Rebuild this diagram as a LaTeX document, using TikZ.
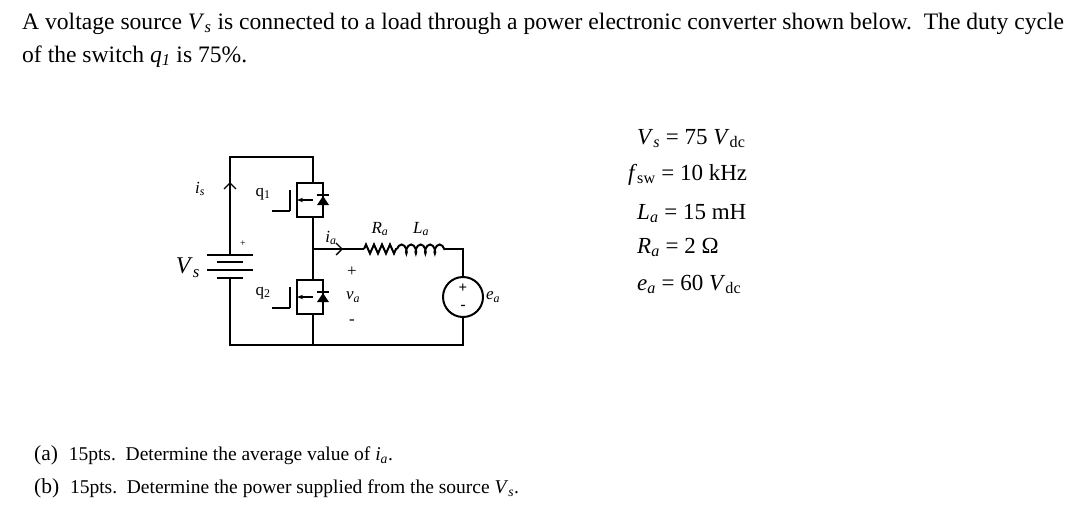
\documentclass[tikz,border=0pt]{standalone}
\usepackage{fontspec}
\setmainfont{Liberation Serif}
\usetikzlibrary{positioning,calc,arrows.meta,decorations.pathmorphing}
\tikzset{
  wire/.style={line width=2pt},
  txt/.style={inner sep=0pt, anchor=base west},
  lbl/.style={inner sep=0pt, font=\fontsize{17}{17}\selectfont},
}
\newcommand{\iv}[2]{\textit{#1}\textsubscript{\textit{#2}}}
\newcommand{\mosfet}[2]{% name, y of drain
  \coordinate (#1d) at (313,#2);
  \coordinate (#1s) at (313,#2+34);
  \draw[wire] (#1d) -- (297,#2) -- (297,#2+34) -- (#1s);
  \draw[wire] (290,#2+7) -- (290,#2+28) (272,#2+28) -- (290,#2+28);
  \draw[line width=1.3pt,-{Stealth[length=6pt]}] (313,#2+17) -- (297,#2+17);
  \draw[wire] (#1d) -- (323,#2) -- (323,#2+34) -- (#1s);
  \fill (317,#2+22) -- (329,#2+22) -- (323,#2+13) -- cycle;
  \draw[line width=1.3pt] (317,#2+12) -- (329,#2+12);
}
\begin{document}
\begin{tikzpicture}[x=1pt,y=-1pt]
  \useasboundingbox (0,0) rectangle (1076,504);
  % question text
  \node[txt, font=\fontsize{23.6}{23.6}\selectfont] (l1) at (22,29) {A voltage source \iv{V}{s} is connected to a load through a power electronic converter shown below.\ \ The duty cycle};
  \node[txt, font=\fontsize{23.6}{23.6}\selectfont] (l2) at (22,62) {of the switch \iv{q}{1} is 75\%.};
  % circuit corners
  \coordinate (tl) at (230,157);
  \coordinate (tr) at (313,157);
  \coordinate (bl) at (230,345);
  \coordinate (bm) at (313,345);
  \coordinate (br) at (463,345);
  \coordinate (mid) at (313,249);
  \coordinate (bt) at (230,255);
  \coordinate (bb) at (230,278);
  \mosfet{qa}{183}
  \mosfet{qb}{280}
  \draw[wire] (bt) -- (tl) -- (tr) -- (qad);
  \draw[wire] (qas) -- (qbd);
  \draw[wire] (bb) -- (bl) -- (bm) -- (br) -- (463,317);
  \draw[wire] (qbs) -- (bm);
  % battery
  \draw[wire] (207,255) -- (253,255) (217,262) -- (243,262)
              (207,270) -- (253,270) (217,278) -- (243,278);
  \draw[line width=1.3pt,-{Straight Barb[length=6pt]}] (230,200) -- (230,182);
  % load
  \coordinate (rA) at (364,249);
  \coordinate (rB) at (397,249);
  \coordinate (lB) at (445,249);
  \draw[wire] (mid) -- (rA);
  \draw[line width=1.3pt,-{Straight Barb[length=6pt]}] (330,249) -- (343,249);
  \draw[wire, decorate, decoration={zigzag, segment length=8pt, amplitude=4.5pt}] (rA) -- (rB);
  \draw[wire, decorate, decoration={coil, aspect=0.5, segment length=9.5pt, amplitude=4.5pt}] (rB) -- (lB);
  \draw[wire] (lB) -- (463,249) -- (463,277);
  \node[draw, circle, line width=2pt, minimum size=40pt, inner sep=0pt] (ea) at (463,297) {};
  \node[font=\bfseries\fontsize{15}{15}\selectfont] at (463,288) {+};
  \node[font=\bfseries\fontsize{15}{15}\selectfont] at (463,307) {-};
  % labels
  \node[lbl] at (200,189) {\iv{i}{s}};
  \node[lbl] at (263,194) {q\textsubscript{1}};
  \node[lbl] at (263,293) {q\textsubscript{2}};
  \node[lbl] at (331,238) {\iv{i}{a}};
  \node[lbl] at (380,229) {\iv{R}{a}};
  \node[lbl] at (421,229) {\iv{L}{a}};
  \node[lbl] at (352,272) {+};
  \node[lbl] at (353,297) {\iv{v}{a}};
  \node[lbl] at (352,322) {-};
  \node[lbl] at (493,297) {\iv{e}{a}};
  \node[lbl, font=\fontsize{24}{24}\selectfont] at (188,268) {\iv{V}{s}};
  \node[lbl, font=\fontsize{10}{10}\selectfont] at (243,244) {+};
  % parameters
  \begin{scope}[every node/.style={txt, font=\fontsize{23}{23}\selectfont}]
    \node (p1) at (637,144) {\iv{V}{s} = 75 \textit{V}\textsubscript{dc}};
    \node (p2) at (628,180) {\textit{f}\textsubscript{sw} = 10 kHz};
    \node (p3) at (637,219) {\iv{L}{a} = 15 mH};
    \node (p4) at (637,253) {\iv{R}{a} = 2 Ω};
    \node (p5) at (637,290) {\iv{e}{a} = 60 \textit{V}\textsubscript{dc}};
  \end{scope}
  % questions
  \node[txt, font=\fontsize{21.5}{21.5}\selectfont] (qa) at (34,460) {(a)\ \ \fontsize{19.5}{19.5}\selectfont 15pts.\ \ Determine the average value of \iv{i}{a}.};
  \node[txt, font=\fontsize{21.5}{21.5}\selectfont] (qb) at (34,493) {(b)\ \ \fontsize{19.5}{19.5}\selectfont 15pts.\ \ Determine the power supplied from the source \iv{V}{s}.};
\end{tikzpicture}
\end{document}
